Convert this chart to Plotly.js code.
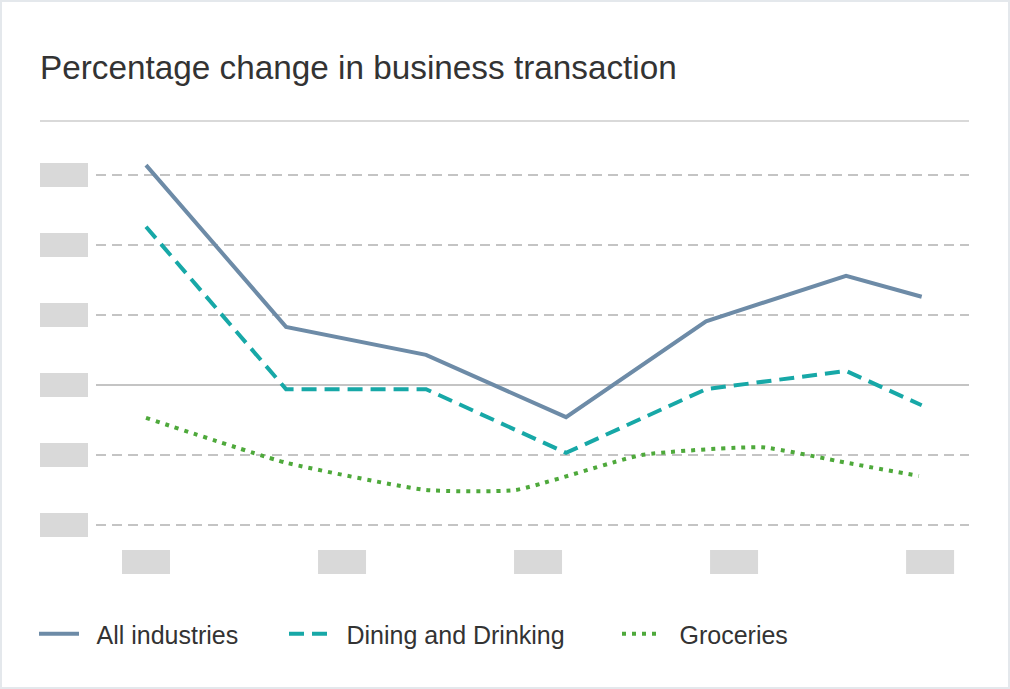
<!DOCTYPE html>
<html>
<head>
<meta charset="utf-8">
<script src="https://cdn.plot.ly/plotly-3.0.1.min.js"></script>
<style>
  html, body { margin: 0; padding: 0; background: #e4e8ec; }
  #chart { width: 1006px; height: 685px; border: 2px solid #e4e8ec; background: #ffffff; }
</style>
</head>
<body>
<div id="chart"></div>
<script>
// Day offsets of each observation (x axis ticks every 7 days)
const dayIndex = [0, 5, 10, 15, 20, 25, 27.7];
const allIndustries = [31.4, 8.3, 4.3, -4.6, 9.1, 15.6, 12.6];
const diningDrinking = [22.6, -0.6, -0.6, -9.7, -0.6, 2.0, -2.9];

const groceriesDays = [0, 5, 10, 13.2, 17.7, 22, 25, 27.6];
const groceries = [-4.7, -11.1, -15.0, -15.0, -10.0, -8.9, -11.1, -13.0];

const seriesNames = ['All industries', 'Dining and Drinking', 'Groceries'];
const titleText = 'Percentage change in business transaction';

const xTickVals = [0, 7, 14, 21, 28];
const yTickVals = [-20, -10, 0, 10, 20, 30];

// Plot geometry (px inside the chart div)
const W = 1006, H = 685;
const M = { l: 94, r: 39, t: 119, b: 141 };
const plotW = W - M.l - M.r;
const plotH = H - M.t - M.b;
const xRange = [-1.786, 29.39];
const yRange = [-23.0, 37.7];

const pxX = px => px / plotW;            // px -> paper fraction (x)
const pxY = px => px / plotH;            // px -> paper fraction (y)
const yUnitsPerPx = (yRange[1] - yRange[0]) / plotH;
const xUnitsPerPx = (xRange[1] - xRange[0]) / plotW;

const shapes = [];
// Rule under the heading
shapes.push({
  type: 'line', xref: 'paper', yref: 'paper',
  x0: -pxX(56), x1: 1, y0: 1, y1: 1,
  line: { color: '#d9d9d9', width: 2 }
});
// Placeholder blocks in place of y tick labels
yTickVals.forEach(v => {
  shapes.push({
    type: 'rect', xref: 'paper', yref: 'y', layer: 'below',
    x0: -pxX(56), x1: -pxX(8),
    y0: v - 12 * yUnitsPerPx, y1: v + 12 * yUnitsPerPx,
    fillcolor: '#d9d9d9', line: { width: 0 }
  });
});
// Placeholder blocks in place of x tick labels
xTickVals.forEach(v => {
  shapes.push({
    type: 'rect', xref: 'x', yref: 'paper', layer: 'below',
    x0: v - 24 * xUnitsPerPx, x1: v + 24 * xUnitsPerPx,
    y0: -pxY(4), y1: -pxY(28),
    fillcolor: '#d9d9d9', line: { width: 0 }
  });
});

// Legend entries get a small spacer between the key and its label
const legendLabel = s => '\u2002' + s;

const traces = [
  {
    x: dayIndex, y: allIndustries, name: legendLabel(seriesNames[0]),
    type: 'scatter', mode: 'lines', legend: 'legend',
    line: { color: '#6d8ba7', width: 4 }
  },
  {
    x: dayIndex, y: diningDrinking, name: legendLabel(seriesNames[1]),
    type: 'scatter', mode: 'lines', legend: 'legend2',
    line: { color: '#17a8a7', width: 4, dash: '15px,8px' }
  },
  {
    x: groceriesDays, y: groceries, name: legendLabel(seriesNames[2]),
    type: 'scatter', mode: 'lines', legend: 'legend3',
    line: { color: '#4ea93b', width: 4, dash: '4px,6px', shape: 'spline', smoothing: 0.45 }
  }
];

const legendBase = (leftPx) => ({
  orientation: 'h',
  xref: 'container', yref: 'container',
  x: (leftPx - 2) / W, xanchor: 'left',
  y: 1 - 632 / H, yanchor: 'middle',
  font: { size: 25, color: '#333333' },
  itemwidth: 40,
  bgcolor: 'rgba(0,0,0,0)'
});

const layout = {
  width: W, height: H,
  margin: M,
  paper_bgcolor: '#ffffff',
  plot_bgcolor: '#ffffff',
  font: { family: 'Liberation Sans, Arial, sans-serif', color: '#333333' },
  title: {
    text: titleText,
    font: { size: 33.3, color: '#333333' },
    xref: 'container', yref: 'container',
    x: 38 / W, xanchor: 'left',
    y: 1 - 65 / H, yanchor: 'middle'
  },
  xaxis: {
    range: xRange, tickvals: xTickVals, showticklabels: false,
    showgrid: false, zeroline: false, showline: false, ticks: ''
  },
  yaxis: {
    range: yRange, tickvals: yTickVals, showticklabels: false,
    showgrid: true, gridcolor: '#c4c4c4', gridwidth: 1.6, griddash: '10px,6px',
    zeroline: true, zerolinecolor: '#c4c4c4', zerolinewidth: 1.8,
    showline: false, ticks: ''
  },
  showlegend: true,
  legend: legendBase(34),
  legend2: legendBase(284),
  legend3: legendBase(617),
  shapes: shapes
};

Plotly.newPlot('chart', traces, layout, { displayModeBar: false, staticPlot: true });
</script>
</body>
</html>
